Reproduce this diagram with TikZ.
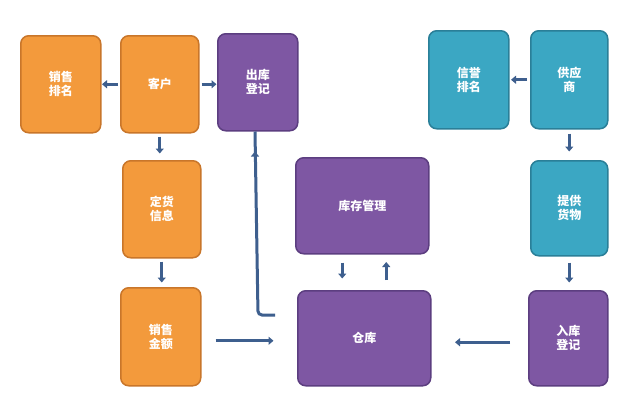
\documentclass[tikz,border=0pt]{standalone}
\usepackage{fontspec}
\setmainfont{Noto Sans CJK SC}
\usetikzlibrary{arrows.meta}
\definecolor{org}{HTML}{F39A3C}
\definecolor{orgd}{HTML}{C9762A}
\definecolor{pur}{HTML}{7E57A3}
\definecolor{purd}{HTML}{5C3E80}
\definecolor{teal}{HTML}{3BA7C3}
\definecolor{teald}{HTML}{2A7F98}
\definecolor{arr}{HTML}{3E5F8E}
\tikzset{
 box/.style={draw,line width=1.5pt,rounded corners=8pt,text=white,font=\large\bfseries,align=center,inner sep=0pt,anchor=north west},
 ob/.style={box,fill=org,draw=orgd},
 pb/.style={box,fill=pur,draw=purd},
 tb/.style={box,fill=teal,draw=teald},
 ar/.style={draw=arr,line width=3pt,-{Triangle[length=5pt,width=8pt]}}
}
\begin{document}
\begin{tikzpicture}[x=1pt,y=-1pt]
\useasboundingbox[fill=white] (0,0) rectangle (640,416);
\node[ob,minimum width=80,minimum height=97] (xspm) at (20,35) {销售\\排名};
\node[ob,minimum width=78,minimum height=97] (kh) at (120,35) {客户};
\node[pb,minimum width=80,minimum height=97] (ck) at (217,33) {出库\\登记};
\node[ob,minimum width=78,minimum height=97] (dh) at (122,160) {定货\\信息};
\node[ob,minimum width=80,minimum height=98] (xsje) at (120,287) {销售\\金额};
\node[pb,minimum width=133,minimum height=96] (kc) at (295,157) {库存管理};
\node[pb,minimum width=133,minimum height=95] (cku) at (297,290) {仓库};
\node[tb,minimum width=80,minimum height=98] (xy) at (428,30) {信誉\\排名};
\node[tb,minimum width=77,minimum height=98] (gys) at (530,30) {供应\\商};
\node[tb,minimum width=77,minimum height=95] (tg) at (530,160) {提供\\货物};
\node[pb,minimum width=79,minimum height=95] (rk) at (528,290) {入库\\登记};
\draw[ar] (kh.west)++(-2,0) -- ++(-16,0) coordinate (a1);
\draw[ar] (kh.east)++(2,0) -- ++(15,0) coordinate (a2);
\draw[ar] (kh.south)++(0,3) -- ++(0,17) coordinate (a3);
\draw[ar] (dh.south)++(0,3) -- ++(0,21) coordinate (a4);
\draw[ar] ([yshift=-4]xsje.east)++(14,0) -- ++(58,0) coordinate (a5);
\draw[draw=arr,line width=3pt,-{Triangle[length=5pt,width=8pt]},rounded corners=4pt] ([yshift=-25]cku.north west)++(-22,0) -- ++(-17,0) -- ([xshift=-42]ck.south -| cku.west) ++(0,20) coordinate (a6);
\draw[ar] ([xshift=-20]kc.south)++(0,8) -- ++(0,16) coordinate (a7);
\draw[ar] ([xshift=22]cku.north)++(0,-10) -- ++(0,-18) coordinate (a8);
\draw[ar] (gys.west)++(-3,0) -- ++(-16,0) coordinate (a9);
\draw[ar] (gys.south)++(0,4) -- ++(0,18) coordinate (a10);
\draw[ar] (tg.south)++(0,6) -- ++(0,20) coordinate (a11);
\draw[ar] ([yshift=-4]rk.west)++(-18,0) -- ++(-55,0) coordinate (a12);
\end{tikzpicture}
\end{document}
